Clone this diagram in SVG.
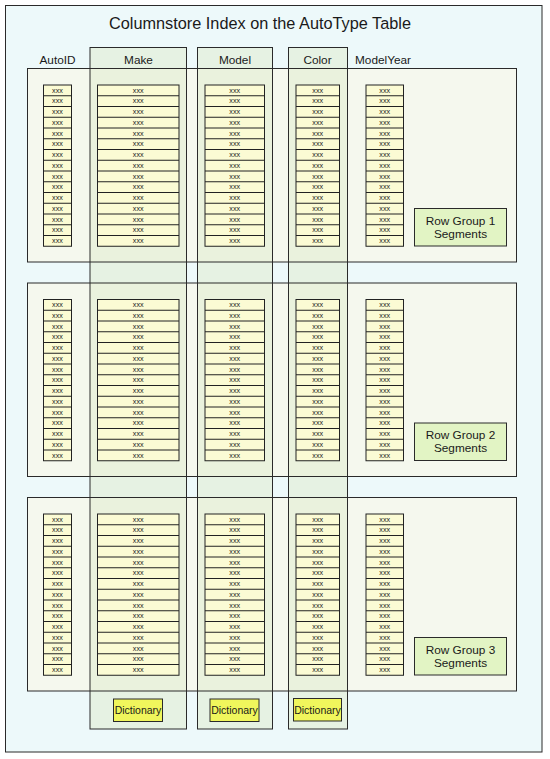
<svg xmlns="http://www.w3.org/2000/svg" width="550" height="759" viewBox="0 0 550 759">
<style>
text{font-family:"Liberation Sans",Arial,sans-serif;fill:#1a1a1a}
.title{font-size:16.3px;text-anchor:middle}
.hdr{font-size:11.8px;text-anchor:middle}
.rgfill{fill:#f5f8ee}
.rgline{fill:none;stroke:#2a2a2a;stroke-width:1}
.colfill{fill:#dfeccb;fill-opacity:0.5}
.colline{fill:none;stroke:#2a2a2a;stroke-width:1}
.cell{fill:#fbfbd4;stroke:#222;stroke-width:1}
.cl{fill:none;stroke:#222;stroke-width:1}
.x text{font-size:7.2px;text-anchor:middle}
.lbl{fill:#e2f4c4;stroke:#2a2a2a;stroke-width:1}
.lt{font-size:11.8px;text-anchor:middle}
.dict{fill:#f0f65c;stroke:#2a2a2a;stroke-width:1}
.dt{font-size:10.5px;text-anchor:middle}
</style>
<defs>
<path id="lines" vector-effect="non-scaling-stroke" d="M0,27.25H1M0,38H1M0,48.75H1M0,59.5H1M0,70.25H1M0,81H1M0,91.75H1M0,102.5H1M0,113.25H1M0,124H1M0,134.75H1M0,145.5H1M0,156.25H1M0,167H1"/>
<g id="stacks">
<rect class="cell" x="43.5" y="16.5" width="28" height="161.25"/>
<rect class="cell" x="97.5" y="16.5" width="81.5" height="161.25"/>
<rect class="cell" x="205" y="16.5" width="59.5" height="161.25"/>
<rect class="cell" x="296" y="16.5" width="43.5" height="161.25"/>
<rect class="cell" x="366" y="16.5" width="37.5" height="161.25"/>
<use href="#lines" class="cl" transform="translate(43.5,0) scale(28,1)"/>
<use href="#lines" class="cl" transform="translate(97.5,0) scale(81.5,1)"/>
<use href="#lines" class="cl" transform="translate(205,0) scale(59.5,1)"/>
<use href="#lines" class="cl" transform="translate(296,0) scale(43.5,1)"/>
<use href="#lines" class="cl" transform="translate(366,0) scale(37.5,1)"/>
</g>
</defs>
<rect x="5.5" y="5.5" width="536.5" height="746.5" fill="#edf9fa" stroke="#2a2a2a" stroke-width="1"/>
<text class="title" x="260" y="29">Columnstore Index on the AutoType Table</text>

<g id="rowgroup-fills">
<rect class="rgfill" x="27.5" y="68.5" width="489" height="193.5"/>
<rect class="rgfill" x="27.5" y="283" width="489" height="193.5"/>
<rect class="rgfill" x="27.5" y="497.5" width="489" height="193.5"/>
</g>
<g id="column-make"><rect class="colfill" x="90" y="47.5" width="96.5" height="681.5"/></g>
<g id="column-model"><rect class="colfill" x="197.5" y="47.5" width="75" height="681.5"/></g>
<g id="column-color"><rect class="colfill" x="288.5" y="47.5" width="59" height="681.5"/></g>
<g id="rowgroup-borders">
<rect class="rgline" x="27.5" y="68.5" width="489" height="193.5"/>
<rect class="rgline" x="27.5" y="283" width="489" height="193.5"/>
<rect class="rgline" x="27.5" y="497.5" width="489" height="193.5"/>
</g>
<g id="column-borders">
<rect class="colline" x="90" y="47.5" width="96.5" height="681.5"/>
<rect class="colline" x="197.5" y="47.5" width="75" height="681.5"/>
<rect class="colline" x="288.5" y="47.5" width="59" height="681.5"/>
</g>

<g id="headers">
<text class="hdr" x="57.5" y="64">AutoID</text>
<text class="hdr" x="138.5" y="64">Make</text>
<text class="hdr" x="235" y="64">Model</text>
<text class="hdr" x="317.5" y="64">Color</text>
<text class="hdr" x="383" y="64">ModelYear</text>
</g>

<g id="rowgroup1" transform="translate(0,68.5)">
<use href="#stacks"/>
<g class="x">
<text x="57.5" y="24.1">xxx</text><text x="138.25" y="24.1">xxx</text><text x="234.75" y="24.1">xxx</text><text x="317.75" y="24.1">xxx</text><text x="384.75" y="24.1">xxx</text>
<text x="57.5" y="34.85">xxx</text><text x="138.25" y="34.85">xxx</text><text x="234.75" y="34.85">xxx</text><text x="317.75" y="34.85">xxx</text><text x="384.75" y="34.85">xxx</text>
<text x="57.5" y="45.6">xxx</text><text x="138.25" y="45.6">xxx</text><text x="234.75" y="45.6">xxx</text><text x="317.75" y="45.6">xxx</text><text x="384.75" y="45.6">xxx</text>
<text x="57.5" y="56.35">xxx</text><text x="138.25" y="56.35">xxx</text><text x="234.75" y="56.35">xxx</text><text x="317.75" y="56.35">xxx</text><text x="384.75" y="56.35">xxx</text>
<text x="57.5" y="67.1">xxx</text><text x="138.25" y="67.1">xxx</text><text x="234.75" y="67.1">xxx</text><text x="317.75" y="67.1">xxx</text><text x="384.75" y="67.1">xxx</text>
<text x="57.5" y="77.85">xxx</text><text x="138.25" y="77.85">xxx</text><text x="234.75" y="77.85">xxx</text><text x="317.75" y="77.85">xxx</text><text x="384.75" y="77.85">xxx</text>
<text x="57.5" y="88.6">xxx</text><text x="138.25" y="88.6">xxx</text><text x="234.75" y="88.6">xxx</text><text x="317.75" y="88.6">xxx</text><text x="384.75" y="88.6">xxx</text>
<text x="57.5" y="99.35">xxx</text><text x="138.25" y="99.35">xxx</text><text x="234.75" y="99.35">xxx</text><text x="317.75" y="99.35">xxx</text><text x="384.75" y="99.35">xxx</text>
<text x="57.5" y="110.1">xxx</text><text x="138.25" y="110.1">xxx</text><text x="234.75" y="110.1">xxx</text><text x="317.75" y="110.1">xxx</text><text x="384.75" y="110.1">xxx</text>
<text x="57.5" y="120.85">xxx</text><text x="138.25" y="120.85">xxx</text><text x="234.75" y="120.85">xxx</text><text x="317.75" y="120.85">xxx</text><text x="384.75" y="120.85">xxx</text>
<text x="57.5" y="131.6">xxx</text><text x="138.25" y="131.6">xxx</text><text x="234.75" y="131.6">xxx</text><text x="317.75" y="131.6">xxx</text><text x="384.75" y="131.6">xxx</text>
<text x="57.5" y="142.35">xxx</text><text x="138.25" y="142.35">xxx</text><text x="234.75" y="142.35">xxx</text><text x="317.75" y="142.35">xxx</text><text x="384.75" y="142.35">xxx</text>
<text x="57.5" y="153.1">xxx</text><text x="138.25" y="153.1">xxx</text><text x="234.75" y="153.1">xxx</text><text x="317.75" y="153.1">xxx</text><text x="384.75" y="153.1">xxx</text>
<text x="57.5" y="163.85">xxx</text><text x="138.25" y="163.85">xxx</text><text x="234.75" y="163.85">xxx</text><text x="317.75" y="163.85">xxx</text><text x="384.75" y="163.85">xxx</text>
<text x="57.5" y="174.6">xxx</text><text x="138.25" y="174.6">xxx</text><text x="234.75" y="174.6">xxx</text><text x="317.75" y="174.6">xxx</text><text x="384.75" y="174.6">xxx</text>
</g>
<g id="rg1-label">
<rect class="lbl" x="414.5" y="140" width="92" height="37.5"/>
<text class="lt" x="460.5" y="156.3">Row Group 1</text>
<text class="lt" x="460.5" y="169">Segments</text>
</g>
</g>

<g id="rowgroup2" transform="translate(0,283)">
<use href="#stacks"/>
<g class="x">
<text x="57.5" y="24.1">xxx</text><text x="138.25" y="24.1">xxx</text><text x="234.75" y="24.1">xxx</text><text x="317.75" y="24.1">xxx</text><text x="384.75" y="24.1">xxx</text>
<text x="57.5" y="34.85">xxx</text><text x="138.25" y="34.85">xxx</text><text x="234.75" y="34.85">xxx</text><text x="317.75" y="34.85">xxx</text><text x="384.75" y="34.85">xxx</text>
<text x="57.5" y="45.6">xxx</text><text x="138.25" y="45.6">xxx</text><text x="234.75" y="45.6">xxx</text><text x="317.75" y="45.6">xxx</text><text x="384.75" y="45.6">xxx</text>
<text x="57.5" y="56.35">xxx</text><text x="138.25" y="56.35">xxx</text><text x="234.75" y="56.35">xxx</text><text x="317.75" y="56.35">xxx</text><text x="384.75" y="56.35">xxx</text>
<text x="57.5" y="67.1">xxx</text><text x="138.25" y="67.1">xxx</text><text x="234.75" y="67.1">xxx</text><text x="317.75" y="67.1">xxx</text><text x="384.75" y="67.1">xxx</text>
<text x="57.5" y="77.85">xxx</text><text x="138.25" y="77.85">xxx</text><text x="234.75" y="77.85">xxx</text><text x="317.75" y="77.85">xxx</text><text x="384.75" y="77.85">xxx</text>
<text x="57.5" y="88.6">xxx</text><text x="138.25" y="88.6">xxx</text><text x="234.75" y="88.6">xxx</text><text x="317.75" y="88.6">xxx</text><text x="384.75" y="88.6">xxx</text>
<text x="57.5" y="99.35">xxx</text><text x="138.25" y="99.35">xxx</text><text x="234.75" y="99.35">xxx</text><text x="317.75" y="99.35">xxx</text><text x="384.75" y="99.35">xxx</text>
<text x="57.5" y="110.1">xxx</text><text x="138.25" y="110.1">xxx</text><text x="234.75" y="110.1">xxx</text><text x="317.75" y="110.1">xxx</text><text x="384.75" y="110.1">xxx</text>
<text x="57.5" y="120.85">xxx</text><text x="138.25" y="120.85">xxx</text><text x="234.75" y="120.85">xxx</text><text x="317.75" y="120.85">xxx</text><text x="384.75" y="120.85">xxx</text>
<text x="57.5" y="131.6">xxx</text><text x="138.25" y="131.6">xxx</text><text x="234.75" y="131.6">xxx</text><text x="317.75" y="131.6">xxx</text><text x="384.75" y="131.6">xxx</text>
<text x="57.5" y="142.35">xxx</text><text x="138.25" y="142.35">xxx</text><text x="234.75" y="142.35">xxx</text><text x="317.75" y="142.35">xxx</text><text x="384.75" y="142.35">xxx</text>
<text x="57.5" y="153.1">xxx</text><text x="138.25" y="153.1">xxx</text><text x="234.75" y="153.1">xxx</text><text x="317.75" y="153.1">xxx</text><text x="384.75" y="153.1">xxx</text>
<text x="57.5" y="163.85">xxx</text><text x="138.25" y="163.85">xxx</text><text x="234.75" y="163.85">xxx</text><text x="317.75" y="163.85">xxx</text><text x="384.75" y="163.85">xxx</text>
<text x="57.5" y="174.6">xxx</text><text x="138.25" y="174.6">xxx</text><text x="234.75" y="174.6">xxx</text><text x="317.75" y="174.6">xxx</text><text x="384.75" y="174.6">xxx</text>
</g>
<g id="rg2-label">
<rect class="lbl" x="414.5" y="140" width="92" height="37.5"/>
<text class="lt" x="460.5" y="156.3">Row Group 2</text>
<text class="lt" x="460.5" y="169">Segments</text>
</g>
</g>

<g id="rowgroup3" transform="translate(0,497.5)">
<use href="#stacks"/>
<g class="x">
<text x="57.5" y="24.1">xxx</text><text x="138.25" y="24.1">xxx</text><text x="234.75" y="24.1">xxx</text><text x="317.75" y="24.1">xxx</text><text x="384.75" y="24.1">xxx</text>
<text x="57.5" y="34.85">xxx</text><text x="138.25" y="34.85">xxx</text><text x="234.75" y="34.85">xxx</text><text x="317.75" y="34.85">xxx</text><text x="384.75" y="34.85">xxx</text>
<text x="57.5" y="45.6">xxx</text><text x="138.25" y="45.6">xxx</text><text x="234.75" y="45.6">xxx</text><text x="317.75" y="45.6">xxx</text><text x="384.75" y="45.6">xxx</text>
<text x="57.5" y="56.35">xxx</text><text x="138.25" y="56.35">xxx</text><text x="234.75" y="56.35">xxx</text><text x="317.75" y="56.35">xxx</text><text x="384.75" y="56.35">xxx</text>
<text x="57.5" y="67.1">xxx</text><text x="138.25" y="67.1">xxx</text><text x="234.75" y="67.1">xxx</text><text x="317.75" y="67.1">xxx</text><text x="384.75" y="67.1">xxx</text>
<text x="57.5" y="77.85">xxx</text><text x="138.25" y="77.85">xxx</text><text x="234.75" y="77.85">xxx</text><text x="317.75" y="77.85">xxx</text><text x="384.75" y="77.85">xxx</text>
<text x="57.5" y="88.6">xxx</text><text x="138.25" y="88.6">xxx</text><text x="234.75" y="88.6">xxx</text><text x="317.75" y="88.6">xxx</text><text x="384.75" y="88.6">xxx</text>
<text x="57.5" y="99.35">xxx</text><text x="138.25" y="99.35">xxx</text><text x="234.75" y="99.35">xxx</text><text x="317.75" y="99.35">xxx</text><text x="384.75" y="99.35">xxx</text>
<text x="57.5" y="110.1">xxx</text><text x="138.25" y="110.1">xxx</text><text x="234.75" y="110.1">xxx</text><text x="317.75" y="110.1">xxx</text><text x="384.75" y="110.1">xxx</text>
<text x="57.5" y="120.85">xxx</text><text x="138.25" y="120.85">xxx</text><text x="234.75" y="120.85">xxx</text><text x="317.75" y="120.85">xxx</text><text x="384.75" y="120.85">xxx</text>
<text x="57.5" y="131.6">xxx</text><text x="138.25" y="131.6">xxx</text><text x="234.75" y="131.6">xxx</text><text x="317.75" y="131.6">xxx</text><text x="384.75" y="131.6">xxx</text>
<text x="57.5" y="142.35">xxx</text><text x="138.25" y="142.35">xxx</text><text x="234.75" y="142.35">xxx</text><text x="317.75" y="142.35">xxx</text><text x="384.75" y="142.35">xxx</text>
<text x="57.5" y="153.1">xxx</text><text x="138.25" y="153.1">xxx</text><text x="234.75" y="153.1">xxx</text><text x="317.75" y="153.1">xxx</text><text x="384.75" y="153.1">xxx</text>
<text x="57.5" y="163.85">xxx</text><text x="138.25" y="163.85">xxx</text><text x="234.75" y="163.85">xxx</text><text x="317.75" y="163.85">xxx</text><text x="384.75" y="163.85">xxx</text>
<text x="57.5" y="174.6">xxx</text><text x="138.25" y="174.6">xxx</text><text x="234.75" y="174.6">xxx</text><text x="317.75" y="174.6">xxx</text><text x="384.75" y="174.6">xxx</text>
</g>
<g id="rg3-label">
<rect class="lbl" x="414.5" y="140" width="92" height="37.5"/>
<text class="lt" x="460.5" y="156.3">Row Group 3</text>
<text class="lt" x="460.5" y="169">Segments</text>
</g>
</g>

<g id="dict-make"><rect class="dict" x="113.5" y="699" width="49" height="22.5"/><text class="dt" x="138" y="714">Dictionary</text></g>
<g id="dict-model"><rect class="dict" x="210" y="699" width="49" height="22.5"/><text class="dt" x="234.5" y="714">Dictionary</text></g>
<g id="dict-color"><rect class="dict" x="293.5" y="698.5" width="48" height="22.5"/><text class="dt" x="317.5" y="713.5">Dictionary</text></g>
<g id="connectors"/>
</svg>
